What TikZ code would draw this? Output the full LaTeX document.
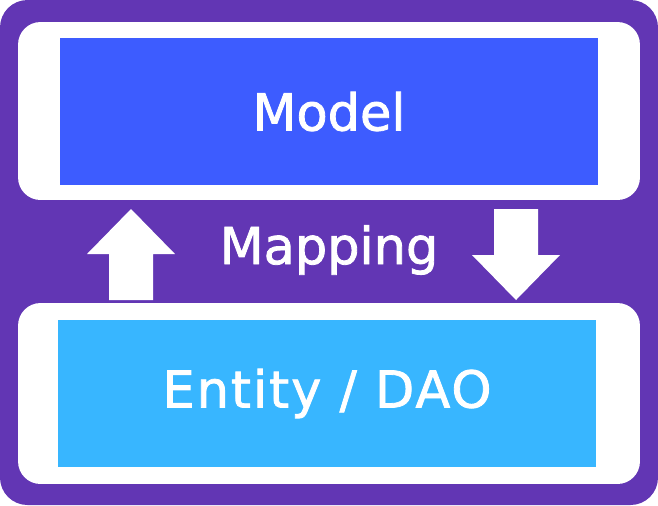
\documentclass[tikz,border=0pt]{standalone}
\usepackage{fontspec}
\setmainfont{DejaVu Sans}
\newfontfamily\labelfont[FakeBold=1.6]{DejaVu Sans}
\newfontfamily\widelabelfont[FakeBold=1.6,LetterSpace=4]{DejaVu Sans}
\definecolor{framepurple}{HTML}{6236B4}
\definecolor{modelblue}{HTML}{3D5CFF}
\definecolor{entityblue}{HTML}{38B6FF}
\tikzset{
  panel/.style={fill=white,rounded corners=0.45cm,inner sep=0pt,
    minimum width=12.44cm},
  layer/.style={inner sep=0pt,minimum width=10.76cm,minimum height=2.94cm,
    text=white,font=\labelfont\fontsize{29}{34}\selectfont},
  blockarrow/.style={fill=white}
}
\begin{document}
\begin{tikzpicture}[x=0.02cm,y=-0.02cm]
  \useasboundingbox (0,0) rectangle (658,505);
  \fill[framepurple,rounded corners=0.55cm] (0,0) rectangle (658,505);

  \node[panel,minimum height=3.56cm] (top) at (329,111) {};
  \node[layer,fill=modelblue] (model) at (329,111.5) {Model};
  \node[panel,minimum height=3.62cm] (bottom) at (329,393.5) {};
  \node[layer,fill=entityblue,font=\widelabelfont\fontsize{29}{34}\selectfont]
    (entity) at (327,393.5) {Entity / DAO};

  \node[text=white,font=\labelfont\fontsize{29}{34}\selectfont] (mapping) at (329,250) {Mapping};

  \coordinate (upfoot) at (131,300);
  \coordinate (downtop) at (516,209);
  \fill[blockarrow] (upfoot) ++(-22,0) -- ++(0,-46) -- ++(-22,0)
    -- ++(44,-45) -- ++(44,45) -- ++(-22,0) -- ++(0,46) -- cycle;
  \fill[blockarrow] (downtop) ++(-22,0) -- ++(0,46) -- ++(-22,0)
    -- ++(44,45) -- ++(44,-45) -- ++(-22,0) -- ++(0,-46) -- cycle;
\end{tikzpicture}
\end{document}
